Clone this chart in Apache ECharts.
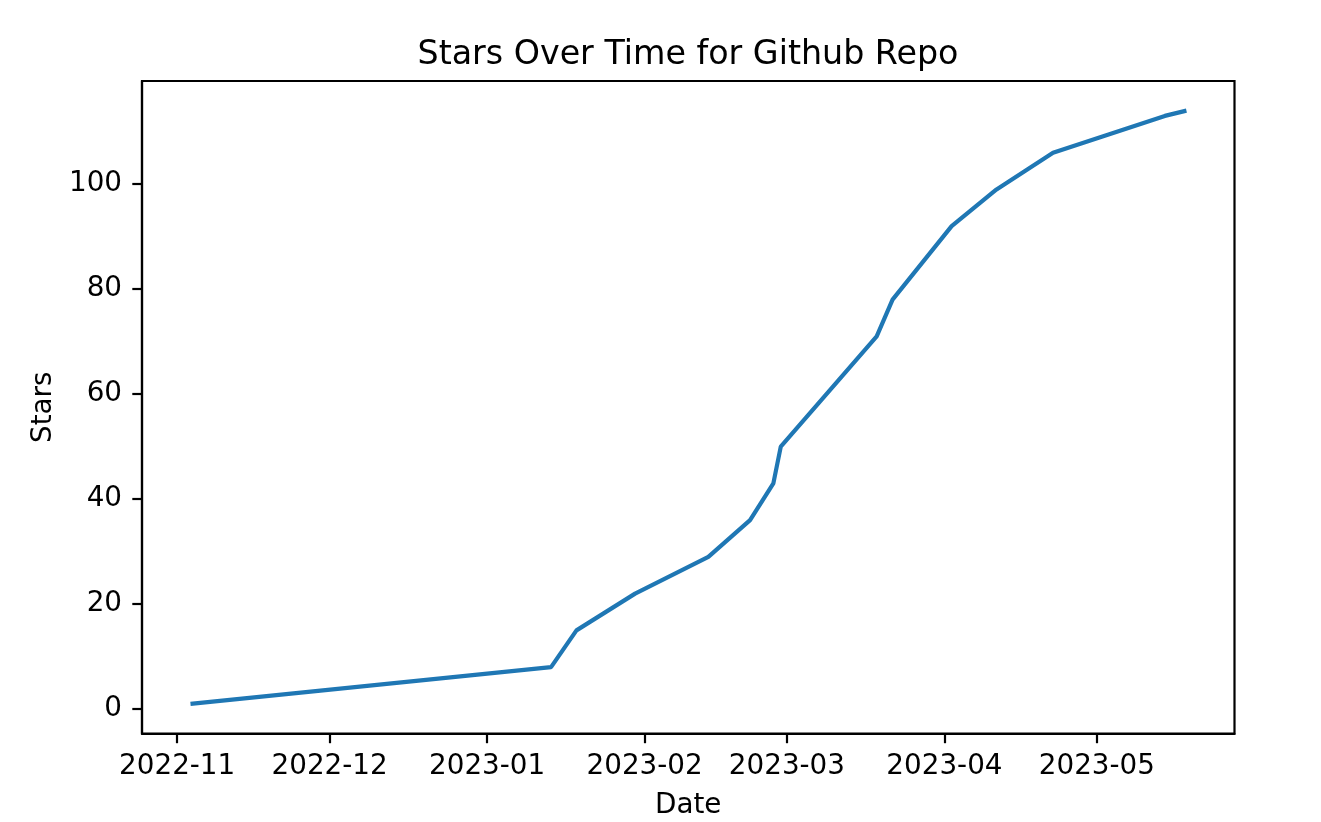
<!DOCTYPE html>
<html>
<head>
<meta charset="utf-8">
<script src="https://cdn.jsdelivr.net/npm/echarts@6/dist/echarts.min.js"></script>
<style>
html,body{margin:0;padding:0;background:#fff;}
#main{width:1321px;height:822px;}
</style>
</head>
<body>
<div id="main"></div>
<script>
// star history
var dates = ['2022-11-03 15:00','2023-01-13 14:00','2023-01-18 14:00','2023-01-30 03:00',
             '2023-02-13 13:00','2023-02-21 18:00','2023-02-26 08:00','2023-02-27 19:00',
             '2023-03-18 16:00','2023-03-21 19:00','2023-04-02 10:00','2023-04-11 06:00',
             '2023-04-22 09:00','2023-05-14 09:00','2023-05-18 15:00'];
var stars = [1,8,15,22,29,36,43,50,71,78,92,99,106,113,114];
var monthTicks = ['2022-11-01','2022-12-01','2023-01-01','2023-02-01','2023-03-01','2023-04-01','2023-05-01'];
var starTicks = [0,20,40,60,80,100];

function ts(s){ return echarts.number.parseDate(s).getTime(); }
function ym(v){
    var d = new Date(v);
    var m = d.getMonth()+1;
    return d.getFullYear()+'-'+(m<10?'0'+m:m);
}

var font = 'DejaVu Sans';
var myChart = echarts.init(document.getElementById('main'));
var seriesData = [];
for(var i=0;i<dates.length;i++)seriesData.push([ts(dates[i]),stars[i]]);
var xTickVals = [];
for(var i=0;i<monthTicks.length;i++)xTickVals.push(ts(monthTicks[i]));

var option = {
    animation:false,
    backgroundColor:'#fff',
    title:{
        text:'Stars Over Time for Github Repo',
        left:688,
        top:39,
        padding:0,
        textAlign:'center',
        textStyle:{fontFamily:font,fontSize:33.3,fontWeight:'normal',color:'#000'}
    },
    grid:{
        left:142, right:86.5, top:81, bottom:88.5,
        show:true, borderColor:'#000', borderWidth:2.2,
        outerBoundsMode:'none'
    },
    xAxis:{
        type:'value',
        min:ts('2022-10-25 02:00'),
        max:ts('2023-05-28 02:00'),
        name:'Date',
        nameLocation:'middle',
        nameGap:58,
        nameTextStyle:{fontFamily:font,fontSize:27.8,color:'#000'},
        axisLine:{show:true,onZero:false,lineStyle:{color:'#000',width:2.2}},
        axisTick:{show:true,inside:false,length:9.7,lineStyle:{color:'#000',width:2.2},customValues:xTickVals},
        axisLabel:{
            fontFamily:font,fontSize:27.8,color:'#000',margin:19,
            customValues:xTickVals,
            formatter:function(v){return ym(v);}
        },
        splitLine:{show:false}
    },
    yAxis:{
        type:'value',
        min:-4.65,
        max:119.65,
        name:'Stars',
        nameLocation:'middle',
        nameGap:83,
        nameTextStyle:{fontFamily:font,fontSize:27.8,color:'#000'},
        axisLine:{show:true,onZero:false,lineStyle:{color:'#000',width:2.2}},
        axisTick:{show:true,inside:false,length:9.7,lineStyle:{color:'#000',width:2.2},customValues:starTicks},
        axisLabel:{fontFamily:font,fontSize:27.8,color:'#000',margin:20,customValues:starTicks},
        splitLine:{show:false}
    },
    series:[{
        type:'line',
        data:seriesData,
        showSymbol:false,
        symbol:'none',
        lineStyle:{color:'#1f77b4',width:4.2},
        itemStyle:{color:'#1f77b4'}
    }]
};
myChart.setOption(option);
</script>
</body>
</html>
